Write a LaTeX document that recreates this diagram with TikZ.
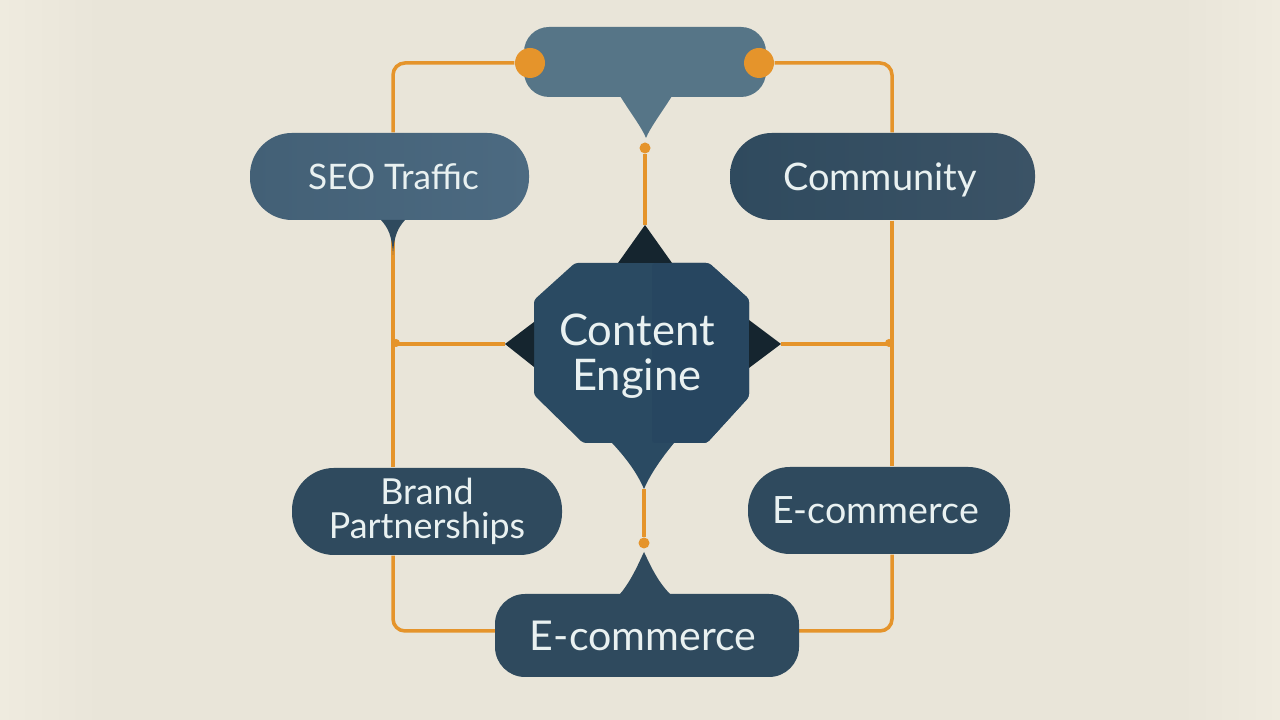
\documentclass[tikz,border=0pt]{standalone}
\usepackage{fontspec}
\setmainfont{Lato}
\usetikzlibrary{backgrounds}
\definecolor{paper}{HTML}{E9E5D9}
\definecolor{paperedge}{HTML}{EFEBDF}
\definecolor{wirecol}{HTML}{E5942B}
\definecolor{slate}{HTML}{567587}
\definecolor{slatel}{HTML}{436076}
\definecolor{slater}{HTML}{4C6A81}
\definecolor{navy}{HTML}{2F4A5E}
\definecolor{navyb}{HTML}{3B5366}
\definecolor{core}{HTML}{2A4A62}
\definecolor{coredark}{HTML}{274660}
\definecolor{spike}{HTML}{15252F}
\definecolor{label}{HTML}{E9F1F1}
\tikzset{
  pill/.style={text=label,align=center,inner sep=0pt,minimum height=.87cm,rounded corners=.42cm},
  wire/.style={draw=wirecol,line width=1pt,rounded corners=.12cm},
  hub/.style={circle,fill=wirecol,inner sep=0pt},
}
\begin{document}
\begin{tikzpicture}
\useasboundingbox (0,0) rectangle (12.8,7.2);
% nodes
\node[pill,fill=slate,minimum width=2.42cm,minimum height=.7cm,rounded corners=.25cm] (source) at (6.45,6.58) {};
\node[pill,left color=slatel,right color=slater,minimum width=2.79cm,font=\fontsize{10}{12}\selectfont] (seo) at (3.895,5.435) {\hspace*{.08cm}SEO Traffic};
\node[pill,left color=navy,right color=navyb,minimum width=3.05cm,text depth=0pt,font=\fontsize{10.8}{12}\selectfont] (community) at (8.825,5.435) {Community\hspace*{.05cm}};
\node[pill,fill=navy,minimum width=2.7cm,font=\fontsize{10.2}{9.7}\selectfont] (brand) at (4.27,2.085) {Brand\\Partnerships};
\node[pill,fill=navy,minimum width=2.62cm,font=\fontsize{10.7}{12}\selectfont] (shopright) at (8.79,2.095) {E-commerce\hspace*{.07cm}};
\node[pill,fill=navy,minimum width=3.04cm,minimum height=.83cm,rounded corners=.3cm,font=\fontsize{11.7}{12}\selectfont] (shop) at (6.47,.845) {E-commerce\hspace*{.08cm}};
% octagon of the centre
\fill[core,rounded corners=.03cm] (5.75,4.57) -- (7.09,4.57) -- (7.49,4.21) -- (7.49,3.23) -- (7.07,2.77) -- (5.83,2.77) -- (5.34,3.25) -- (5.34,4.20) -- cycle;
\fill[coredark,rounded corners=.03cm] (6.52,4.57) -- (7.09,4.57) -- (7.49,4.21) -- (7.49,3.23) -- (7.07,2.77) -- (6.52,2.77) -- cycle;
\node[text=label,align=center,inner sep=0pt,font=\fontsize{12.4}{12.8}\selectfont] (engine) at (6.37,3.64) {Content\\Engine};
% named points
\coordinate (lbus) at (3.93,3.76);
\coordinate (rbus) at (8.92,3.76);
\coordinate (ltip) at (5.05,3.76);
\coordinate (rtip) at (7.81,3.76);
\coordinate (ttip) at (6.45,4.95);
\coordinate (btip) at (6.44,2.31);
\coordinate (foot) at (6.47,.89);
\node[hub,minimum size=.3cm] (dotl) at (5.3,6.57) {};
\node[hub,minimum size=.3cm] (dotr) at (7.59,6.57) {};
\node[hub,minimum size=.11cm] (dott) at (6.45,5.72) {};
\node[hub,minimum size=.11cm] (dotb) at (6.44,1.77) {};
\node[hub,minimum size=.08cm] (dotw) at (3.96,3.77) {};
\node[hub,minimum size=.08cm] (dote) at (8.89,3.77) {};
% spikes
\fill[slate] (6.20,6.24) .. controls (6.32,6.05) and (6.42,5.92) .. (6.46,5.82) .. controls (6.5,5.92) and (6.6,6.05) .. (6.72,6.24) -- cycle;
\fill[navy] (3.81,5.0) .. controls (3.88,4.92) and (3.92,4.85) .. (3.93,4.65) .. controls (3.94,4.85) and (3.98,4.92) .. (4.05,5.0) -- cycle;
\fill[spike] (6.18,4.57) -- (ttip) -- (6.72,4.57) -- cycle;
\fill[spike] (5.34,3.98) -- (ltip) -- (5.34,3.53) -- cycle;
\fill[spike] (7.49,4.0) -- (rtip) -- (7.49,3.52) -- cycle;
\fill[core] (6.12,2.77) .. controls (6.28,2.6) and (6.38,2.45) .. (btip) .. controls (6.5,2.45) and (6.6,2.6) .. (6.74,2.77) -- cycle;
\fill[navy] (6.20,1.26) .. controls (6.32,1.4) and (6.4,1.6) .. (6.44,1.68) .. controls (6.48,1.6) and (6.56,1.4) .. (6.70,1.26) -- cycle;
% wires
\begin{scope}[on background layer]
\fill[paper] (0,0) rectangle (12.8,7.2);
\shade[left color=paperedge,right color=paper] (0,0) rectangle (1,7.2);
\shade[right color=paperedge,left color=paper] (11.8,0) rectangle (12.8,7.2);
\draw[wire] (dotl) -| (lbus |- seo.north);
\draw[wire] (dotr) -| (rbus |- community.north);
\draw[wire] (lbus |- seo.south) -- (lbus |- brand.north);
\draw[wire] (rbus |- community.south) -- (rbus |- shopright.north);
\draw[wire] (lbus |- brand.south) |- (foot);
\draw[wire] (rbus |- shopright.south) |- (foot);
\draw[wire] (lbus) -- (ltip);
\draw[wire] (rbus) -- (rtip);
\draw[wire] (dott) -- (ttip);
\draw[wire] (btip) -- (dotb);
\end{scope}
\end{tikzpicture}
\end{document}
